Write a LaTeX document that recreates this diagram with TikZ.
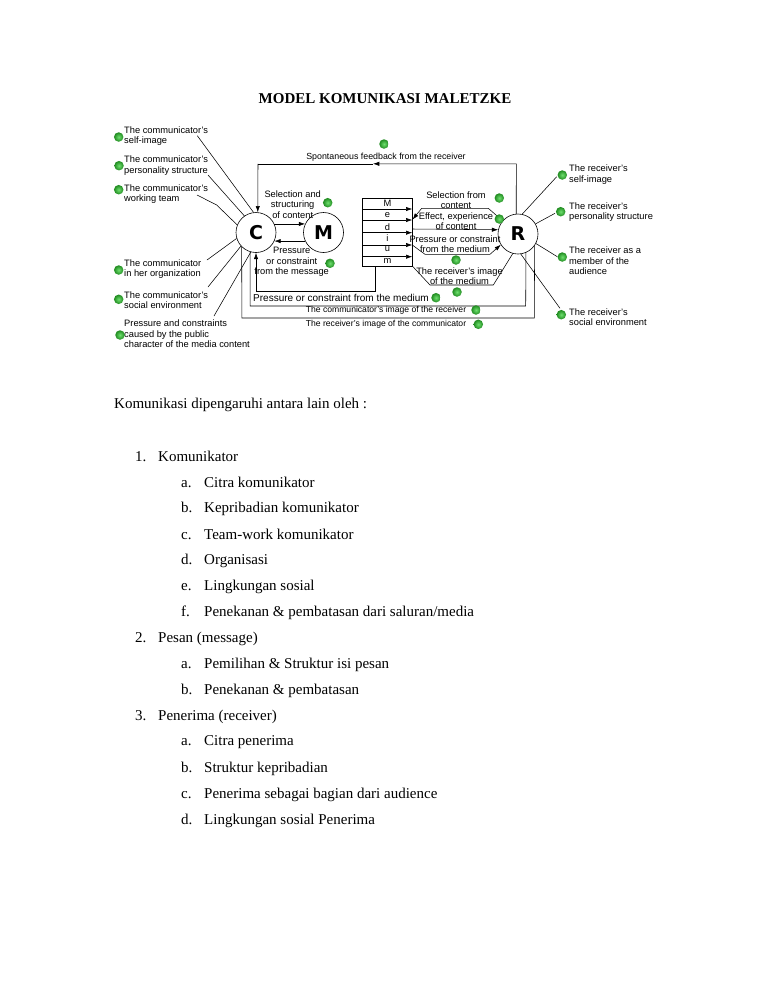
\documentclass[tikz,border=0pt]{standalone}
\usepackage{fontspec}
\setmainfont{Liberation Serif}
\setsansfont{Liberation Sans}
\newfontfamily\actorfont{DejaVu Sans}
\usepackage{xcolor}
\usepackage{tikz}
\usetikzlibrary{arrows.meta,positioning}
\definecolor{mBallIn}{HTML}{6FE06F}
\definecolor{mBallOut}{HTML}{1F8A1F}
\newcommand{\marker}[1]{\makebox[23pt][l]{#1}}
\begin{document}
\begin{tikzpicture}[x=1pt, y=-1pt, font=\fontsize{9.3}{10.5}\selectfont\sffamily,
  lbl/.style={inner sep=0pt, align=left, anchor=west},
  ctr/.style={inner sep=0pt, align=center},
  actor/.style={draw, circle, fill=white, line width=0.6pt, minimum size=40pt, inner sep=0pt, font=\fontsize{19}{19}\selectfont\actorfont\bfseries},
  dot/.style={circle, inner sep=0pt, minimum size=9.5pt, inner color=mBallIn, outer color=mBallOut},
  l/.style={line width=0.55pt},
  e/.style={-{Latex[length=2.2mm,width=1.5mm]}, line width=0.55pt},
  li/.style={inner sep=0pt, anchor=west, font=\fontsize{15}{17}\selectfont\rmfamily},
  nxt/.style={below=26pt of #1.west, anchor=west}]
\useasboundingbox (0,0) rectangle (768,994);
\node[li, font=\fontsize{15}{17}\selectfont\rmfamily\bfseries, anchor=center] (title) at (385,99) {MODEL KOMUNIKASI MALETZKE};
% actors
\node[actor] (comm) at (256,232.5) {C};
\node[actor] (msg) at (323.5,232.5) {M};
\node[actor] (recv) at (518,234) {R};
% medium
\node[draw, l, minimum width=49.6pt, minimum height=68pt, inner sep=0pt] (medium) at (387.5,232) {};
\node[ctr] (mm1) at (387.5,203.7) {M};
\node[ctr] (mm2) at (387.5,215.5) {e};
\node[ctr] (mm3) at (387.5,226.7) {d};
\node[ctr] (mm4) at (387.5,238.3) {i};
\node[ctr] (mm5) at (387.5,249.5) {u};
\node[ctr] (mm6) at (387.5,260.7) {m};
\coordinate (row1) at (362.7,209);
\coordinate (row2) at (362.7,220);
\coordinate (row3) at (362.7,232.7);
\coordinate (row4) at (362.7,245);
\coordinate (row5) at (362.7,256.7);
\coordinate (rowe1) at (412.3,209);
\coordinate (rowe2) at (412.3,220);
\coordinate (rowe3) at (412.3,232.7);
\coordinate (rowe4) at (412.3,245);
\coordinate (rowe5) at (412.3,256.7);
\draw[e] (row1) -- (rowe1);
\draw[e] (row2) -- (rowe2);
\draw[e] (row3) -- (rowe3);
\draw[e] (row4) -- (rowe4);
\draw[e] (row5) -- (rowe5);
% left labels
\node[lbl] (cself) at (124,136) {The communicator's\\self-image};
\node[lbl] (cpers) at (124,165.5) {The communicator's\\personality structure};
\node[lbl] (cteam) at (124,194) {The communicator's\\working team};
\node[lbl] (corg) at (124,269) {The communicator\\in her organization};
\node[lbl] (csoc) at (124,300) {The communicator's\\social environment};
\node[lbl] (cpub) at (124,334) {Pressure and constraints\\caused by the public\\character of the media content};
\coordinate (c1) at (197.3,135.7);
\coordinate (c2) at (208,175);
\coordinate (c3) at (197,195);
\coordinate (c3b) at (216.7,205);
\coordinate (c4) at (207,260);
\coordinate (c5) at (208,287);
\coordinate (c6) at (214,316);
\draw[l] (c1) -- (comm.97);
\draw[l] (c2) -- (comm.125);
\draw[l] (c3) -- (c3b) -- (comm.158);
\draw[l] (c4) -- (comm.197);
\draw[l] (c5) -- (comm.222);
\draw[l] (c6) -- (comm.255);
% right labels
\node[lbl] (rself) at (569,174.7) {The receiver's\\self-image};
\node[lbl] (rpers) at (569,212) {The receiver's\\personality structure};
\node[lbl] (raud) at (569,261) {The receiver as a\\member of the\\audience};
\node[lbl] (rsoc) at (569,317) {The receiver's\\social environment};
\coordinate (r1) at (556.7,176.7);
\coordinate (r2) at (555,213.3);
\coordinate (r3) at (557.3,256.7);
\coordinate (r4) at (560,308.3);
\draw[l] (recv.78) -- (r1);
\draw[l] (recv.30) -- (r2);
\draw[l] (recv.-28) -- (r3);
\draw[l] (recv.-82) -- (r4);
% feedback
\node[ctr, font=\fontsize{8.85}{10}\selectfont\sffamily] (fb) at (386,157.3) {Spontaneous feedback from the receiver};
\coordinate (fb1) at (516.3,163.8);
\coordinate (fb2) at (373,163.8);
\coordinate (fb3) at (258,163.8);
\draw[e] (recv.95) -- (fb1) -- (fb2);
\draw[l] (fb2) -- (fb3);
\draw[e] (fb3) -- (comm.85);
% C and M
\node[ctr] (sel) at (292.7,204.3) {Selection and\\structuring\\of content};
\node[ctr] (pm) at (291.7,262) {Pressure\\or constraint\\from the message};
\draw[e] (comm.25) -- (msg.155);
\draw[e] (msg.205) -- (comm.335);
% medium to R
\node[ctr] (sc) at (456,200) {Selection from\\content};
\node[ctr] (ef) at (456,221) {Effect, experience\\of content};
\node[ctr] (pc) at (455,244) {Pressure or constraint\\from the medium};
\node[ctr] (ri) at (459.5,276) {The receiver's image\\of the medium};
\coordinate (s1) at (421.7,208.3);
\coordinate (s2) at (488.3,208.3);
\coordinate (s3) at (500,218.5);
\coordinate (s4) at (412.6,219.5);
\draw[e] (s3) -- (s2) -- (s1) -- (s4);
\coordinate (f1) at (412.3,229);
\draw[e] (f1) -- (recv.168);
\coordinate (p1) at (412.3,245);
\coordinate (p2) at (425,254.3);
\coordinate (p3) at (490,254.3);
\draw[e] (p1) -- (p2) -- (p3) -- (recv.212);
\coordinate (i1) at (412.3,266);
\coordinate (i2) at (430,285);
\coordinate (i3) at (493.3,285);
\draw[l] (i1) -- (i2) -- (i3) -- (recv.255);
% bottom loops
\node[lbl, font=\fontsize{10}{10.5}\selectfont\sffamily] (pr) at (253,298) {Pressure or constraint from the medium};
\node[ctr, font=\fontsize{8.6}{10}\selectfont\sffamily] (im1) at (386,310.5) {The communicator's image of the receiver};
\node[ctr, font=\fontsize{8.6}{10}\selectfont\sffamily] (im2) at (386,324) {The receiver's image of the communicator};
\coordinate (b1) at (375,266);
\coordinate (b2) at (375,291.5);
\coordinate (b3) at (256,291.5);
\draw[e] (b1) -- (b2) -- (b3) -- (comm.270);
\coordinate (d1) at (250.2,306);
\coordinate (d2) at (525.7,306);
\draw[l] (comm.253) -- (d1) -- (d2) -- (recv.-67);
\coordinate (g1) at (241.9,318);
\coordinate (g2) at (534.3,318);
\draw[l] (comm.225) -- (g1) -- (g2) -- (recv.-35);
% dots
\node[dot] (d01) at (118.7,137) {};
\node[dot] (d02) at (119,165.7) {};
\node[dot] (d03) at (118.7,189.7) {};
\node[dot] (d04) at (118.7,270) {};
\node[dot] (d05) at (118.7,299.3) {};
\node[dot] (d06) at (120,335) {};
\node[dot] (d07) at (327.7,202.7) {};
\node[dot] (d08) at (330,263.3) {};
\node[dot] (d09) at (384,144) {};
\node[dot] (d10) at (499.3,198) {};
\node[dot] (d11) at (499.3,219) {};
\node[dot] (d12) at (456,260) {};
\node[dot] (d13) at (457,292) {};
\node[dot] (d14) at (436,297.7) {};
\node[dot] (d15) at (476,310) {};
\node[dot] (d16) at (478.3,324.3) {};
\node[dot] (d17) at (562.3,175) {};
\node[dot] (d18) at (560.7,211.7) {};
\node[dot] (d19) at (562.3,257) {};
\node[dot] (d20) at (561.3,314.7) {};
% text below
\node[li] (intro) at (114,405) {Komunikasi dipengaruhi antara lain oleh :};
\node[li] (n1) at (135,456.5) {\marker{1.}Komunikator};
\node[li] (a1) at (181,482.5) {\marker{a.}Citra komunikator};
\node[li, nxt=a1] (b1i) {\marker{b.}Kepribadian komunikator};
\node[li, nxt=b1i] (c1i) {\marker{c.}Team-work komunikator};
\node[li, nxt=c1i] (d1i) {\marker{d.}Organisasi};
\node[li, nxt=d1i] (e1i) {\marker{e.}Lingkungan sosial};
\node[li, nxt=e1i] (f1i) {\marker{f.}Penekanan \& pembatasan dari saluran/media};
\node[li] (n2) at (135,638.5) {\marker{2.}Pesan (message)};
\node[li] (a2) at (181,664.5) {\marker{a.}Pemilihan \& Struktur isi pesan};
\node[li, nxt=a2] (b2i) {\marker{b.}Penekanan \& pembatasan};
\node[li] (n3) at (135,716.5) {\marker{3.}Penerima (receiver)};
\node[li] (a3) at (181,742.5) {\marker{a.}Citra penerima};
\node[li, nxt=a3] (b3i) {\marker{b.}Struktur kepribadian};
\node[li, nxt=b3i] (c3i) {\marker{c.}Penerima sebagai bagian dari audience};
\node[li, nxt=c3i] (d3i) {\marker{d.}Lingkungan sosial Penerima};
\end{tikzpicture}
\end{document}
